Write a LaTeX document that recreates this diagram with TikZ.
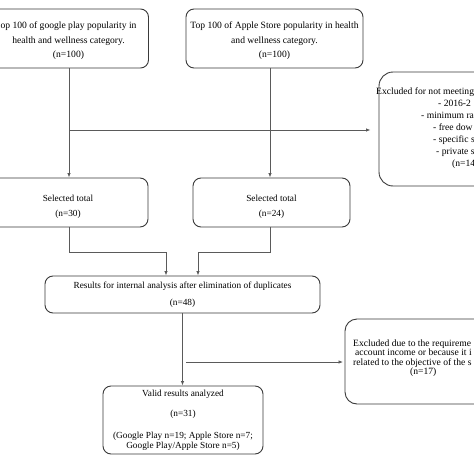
\documentclass[tikz,border=0pt]{standalone}
\usepackage{fontspec}
\setmainfont{Liberation Serif}
\usetikzlibrary{arrows.meta}
\definecolor{boxgray}{HTML}{3A3A3A}
\definecolor{linegray}{HTML}{5A5A5A}
\newcommand{\tpush}[1]{\rule{0pt}{#1}}
\begin{document}
\begin{tikzpicture}[x=1pt,y=-1pt,
  box/.style={draw=boxgray, line width=0.9pt, rounded corners=8pt, inner sep=0pt, align=center,
    font=\fontsize{9.3}{10}\selectfont},
  bigfont/.style={font=\fontsize{9.6}{10}\selectfont},
  conn/.style={draw=linegray, line width=0.8pt},
  arr/.style={conn, -{Latex[length=4.5pt,width=3.5pt]}},
  txt/.style={inner sep=0pt, align=left, anchor=north west}]
\useasboundingbox (0,0) rectangle (474,474);
\clip (0,0) rectangle (474,474);
\fill[white] (0,0) rectangle (474,474);

% top boxes
\node[box, bigfont, minimum width=160pt, minimum height=59pt] (a) at (68.5,38.5)
  {\tpush{12pt}op 100 of google play popularity in\\[4.5pt]health and wellness category.\\[4.5pt](n=100)};
\node[box, bigfont, minimum width=177pt, minimum height=59pt] (b) at (274.5,38.5)
  {\tpush{12pt}Top 100 of Apple Store popularity in health\\[4.5pt]and wellness category.\\[4.5pt](n=100)};

% exclusion box 1
\node[box, rounded corners=14pt, minimum width=111pt, minimum height=114pt] (e1) at (434.5,129) {};
\node[txt, font=\fontsize{9.6}{12}\selectfont] (e1t) at (376,87.5)
  {Excluded for not meeting\\
   \hspace*{62pt}- 2016-2\\
   \hspace*{45pt}- minimum rat\\
   \hspace*{57pt}- free dow\\
   \hspace*{57pt}- specific s\\
   \hspace*{60pt}- private s\\
   \hspace*{76pt}(n=14};

% selected boxes
\node[box, minimum width=160pt, minimum height=49pt] (sl) at (68,202.5)
  {\tpush{14pt}Selected total\\[5pt](n=30)};
\node[box, minimum width=157pt, minimum height=49pt] (sr) at (271.5,202.5)
  {\tpush{14pt}Selected total\\[5pt](n=24)};

% results
\node[box, minimum width=275pt, minimum height=37pt] (r) at (182.5,294.5)
  {Results for internal analysis after elimination of duplicates\\[7pt](n=48)};

% exclusion box 2
\node[box, rounded corners=12pt, minimum width=145pt, minimum height=85pt] (e2) at (417.5,361.5) {};
\node[txt, font=\fontsize{9.6}{9.4}\selectfont] (e2t) at (353,339.5)
  {Excluded due to the requireme\\
   \hspace*{2pt}account income or because it i\\
   related to the objective of the s\\
   \hspace*{57pt}(n=17)};

% valid
\node[box, minimum width=160pt, minimum height=68pt] (v) at (183,420)
  {Valid results analyzed\\[10pt](n=31)\\[12pt](Google Play n=19; Apple Store n=7;\\Google Play/Apple Store n=5)};

% connectors
\coordinate (ja) at (69,130);
\coordinate (jb) at (270,130);
\coordinate (ml) at (166,252);
\coordinate (mr) at (198,252);
\coordinate (h2) at (186,362);
\draw[arr] (a.south -| ja) -- (sl.north -| ja);
\draw[arr] (b.south -| jb) -- (sr.north -| jb);
\draw[arr, shorten >=8pt] (ja) -- (e1.west |- ja);
\draw[arr] (sl.south -| ja) |- (ml) -- (r.north -| ml);
\draw[arr] (sr.south -| jb) |- (mr) -- (r.north -| mr);
\draw[arr] (r.south) -- (v.north -| r.south);
\draw[arr, shorten >=1.5pt] (h2) -- (e2.west |- h2);
\end{tikzpicture}
\end{document}
